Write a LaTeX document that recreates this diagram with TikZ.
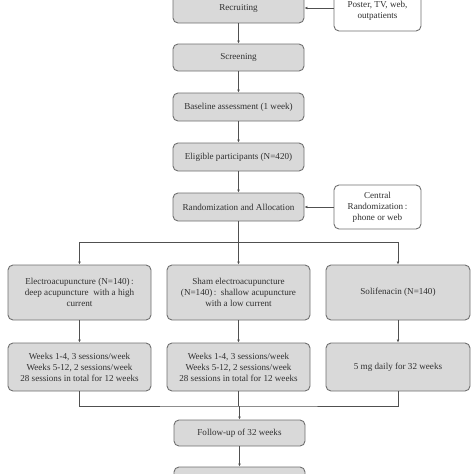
\documentclass[tikz,border=0pt]{standalone}
\usepackage{fontspec}
\setmainfont{Liberation Serif}
\usetikzlibrary{arrows.meta}
\definecolor{boxfill}{HTML}{D9D9D9}
\definecolor{boxline}{HTML}{707070}
\definecolor{lineclr}{HTML}{505050}
\definecolor{txt}{HTML}{303030}
\tikzset{
  gbox/.style={draw=boxline, fill=boxfill, rounded corners=5pt, line width=0.9pt, align=center,
    inner sep=0pt, text=txt, font=\fontsize{9.1}{11}\selectfont},
  wbox/.style={gbox, fill=white},
  arr/.style={draw=lineclr, line width=0.8pt, -{Latex[length=3pt,width=2.8pt]}},
  conn/.style={draw=lineclr, line width=0.8pt}
}
\begin{document}
\begin{tikzpicture}[x=1pt,y=-1pt]
\useasboundingbox (0,0) rectangle (474,474);
\clip (0,0) rectangle (474,474);
\fill[white] (0,0) rectangle (474,474);
% main column
\node[gbox, minimum width=131pt, minimum height=30pt] (rec) at (238.5,8) {Recruiting};
\node[gbox, minimum width=131pt, minimum height=27pt] (scr) at (238.5,57.5) {Screening};
\node[gbox, minimum width=131pt, minimum height=28pt] (base) at (238.5,107) {Baseline assessment (1 week)};
\node[gbox, minimum width=131pt, minimum height=28pt] (elig) at (238.5,157) {Eligible participants (N=420)};
\node[gbox, minimum width=131pt, minimum height=28pt] (rand) at (238.5,207) {Randomization and Allocation};
% side boxes
\node[wbox, minimum width=87pt, minimum height=48pt] (post) at (377.5,7) {};
\node[text=txt, font=\fontsize{9.1}{11}\selectfont, align=center, inner sep=0pt] (posttxt) at (377.5,10.5) {Poster, TV, web,\\outpatients};
\node[wbox, minimum width=87pt, minimum height=44pt] (cent) at (377.5,207) {Central\\Randomization\,:\\phone or web};
% groups
\node[gbox, minimum width=143pt, minimum height=55pt] (g1) at (79.5,292.5) {Electroacupuncture (N=140)\,:\\deep acupuncture\ \ with a high\\current};
\node[gbox, minimum width=143pt, minimum height=55pt] (g2) at (238.5,292.5) {Sham electroacupuncture\\(N=140)\,:\ \ shallow acupuncture\\with a low current};
\node[gbox, minimum width=144pt, minimum height=55pt] (g3) at (398,292.5) {Solifenacin (N=140)};
\node[gbox, minimum width=143pt, minimum height=48pt] (w1) at (79.5,367) {Weeks 1-4, 3 sessions/week\\Weeks 5-12, 2 sessions/week\\28 sessions in total for 12 weeks};
\node[gbox, minimum width=143pt, minimum height=48pt] (w2) at (238.5,367) {Weeks 1-4, 3 sessions/week\\Weeks 5-12, 2 sessions/week\\28 sessions in total for 12 weeks};
\node[gbox, minimum width=144pt, minimum height=48pt] (w3) at (398,367) {5 mg daily for 32 weeks};
\node[gbox, minimum width=131pt, minimum height=26pt] (fol) at (239.5,433) {Follow-up of 32 weeks};
\node[gbox, minimum width=131pt, minimum height=28pt] (last) at (239.5,481) {};
% connectors
\draw[arr] (post.west |- rec.east) -- (rec.east);
\draw[arr] (rec) -- (scr);
\draw[arr] (scr) -- (base);
\draw[arr] (base) -- (elig);
\draw[arr] (elig) -- (rand);
\draw[arr] (cent) -- (rand);
\draw[arr] (rand.south) -- (g2.north);
\coordinate (br) at (238.5,242);
\draw[arr] (br) -| (g1.north);
\draw[arr] (br) -| (g3.north);
\draw[arr] (g1) -- (w1);
\draw[arr] (g2) -- (w2);
\draw[arr] (g3) -- (w3);
\coordinate (mg) at (238.5,406);
\draw[conn] (w1.south) |- (mg) -| (w3.south);
\draw[conn] (w2.south) -- (mg);
\draw[arr] (mg -| fol.north) -- (fol.north);
\draw[arr] (fol) -- (last);
\end{tikzpicture}
\end{document}
